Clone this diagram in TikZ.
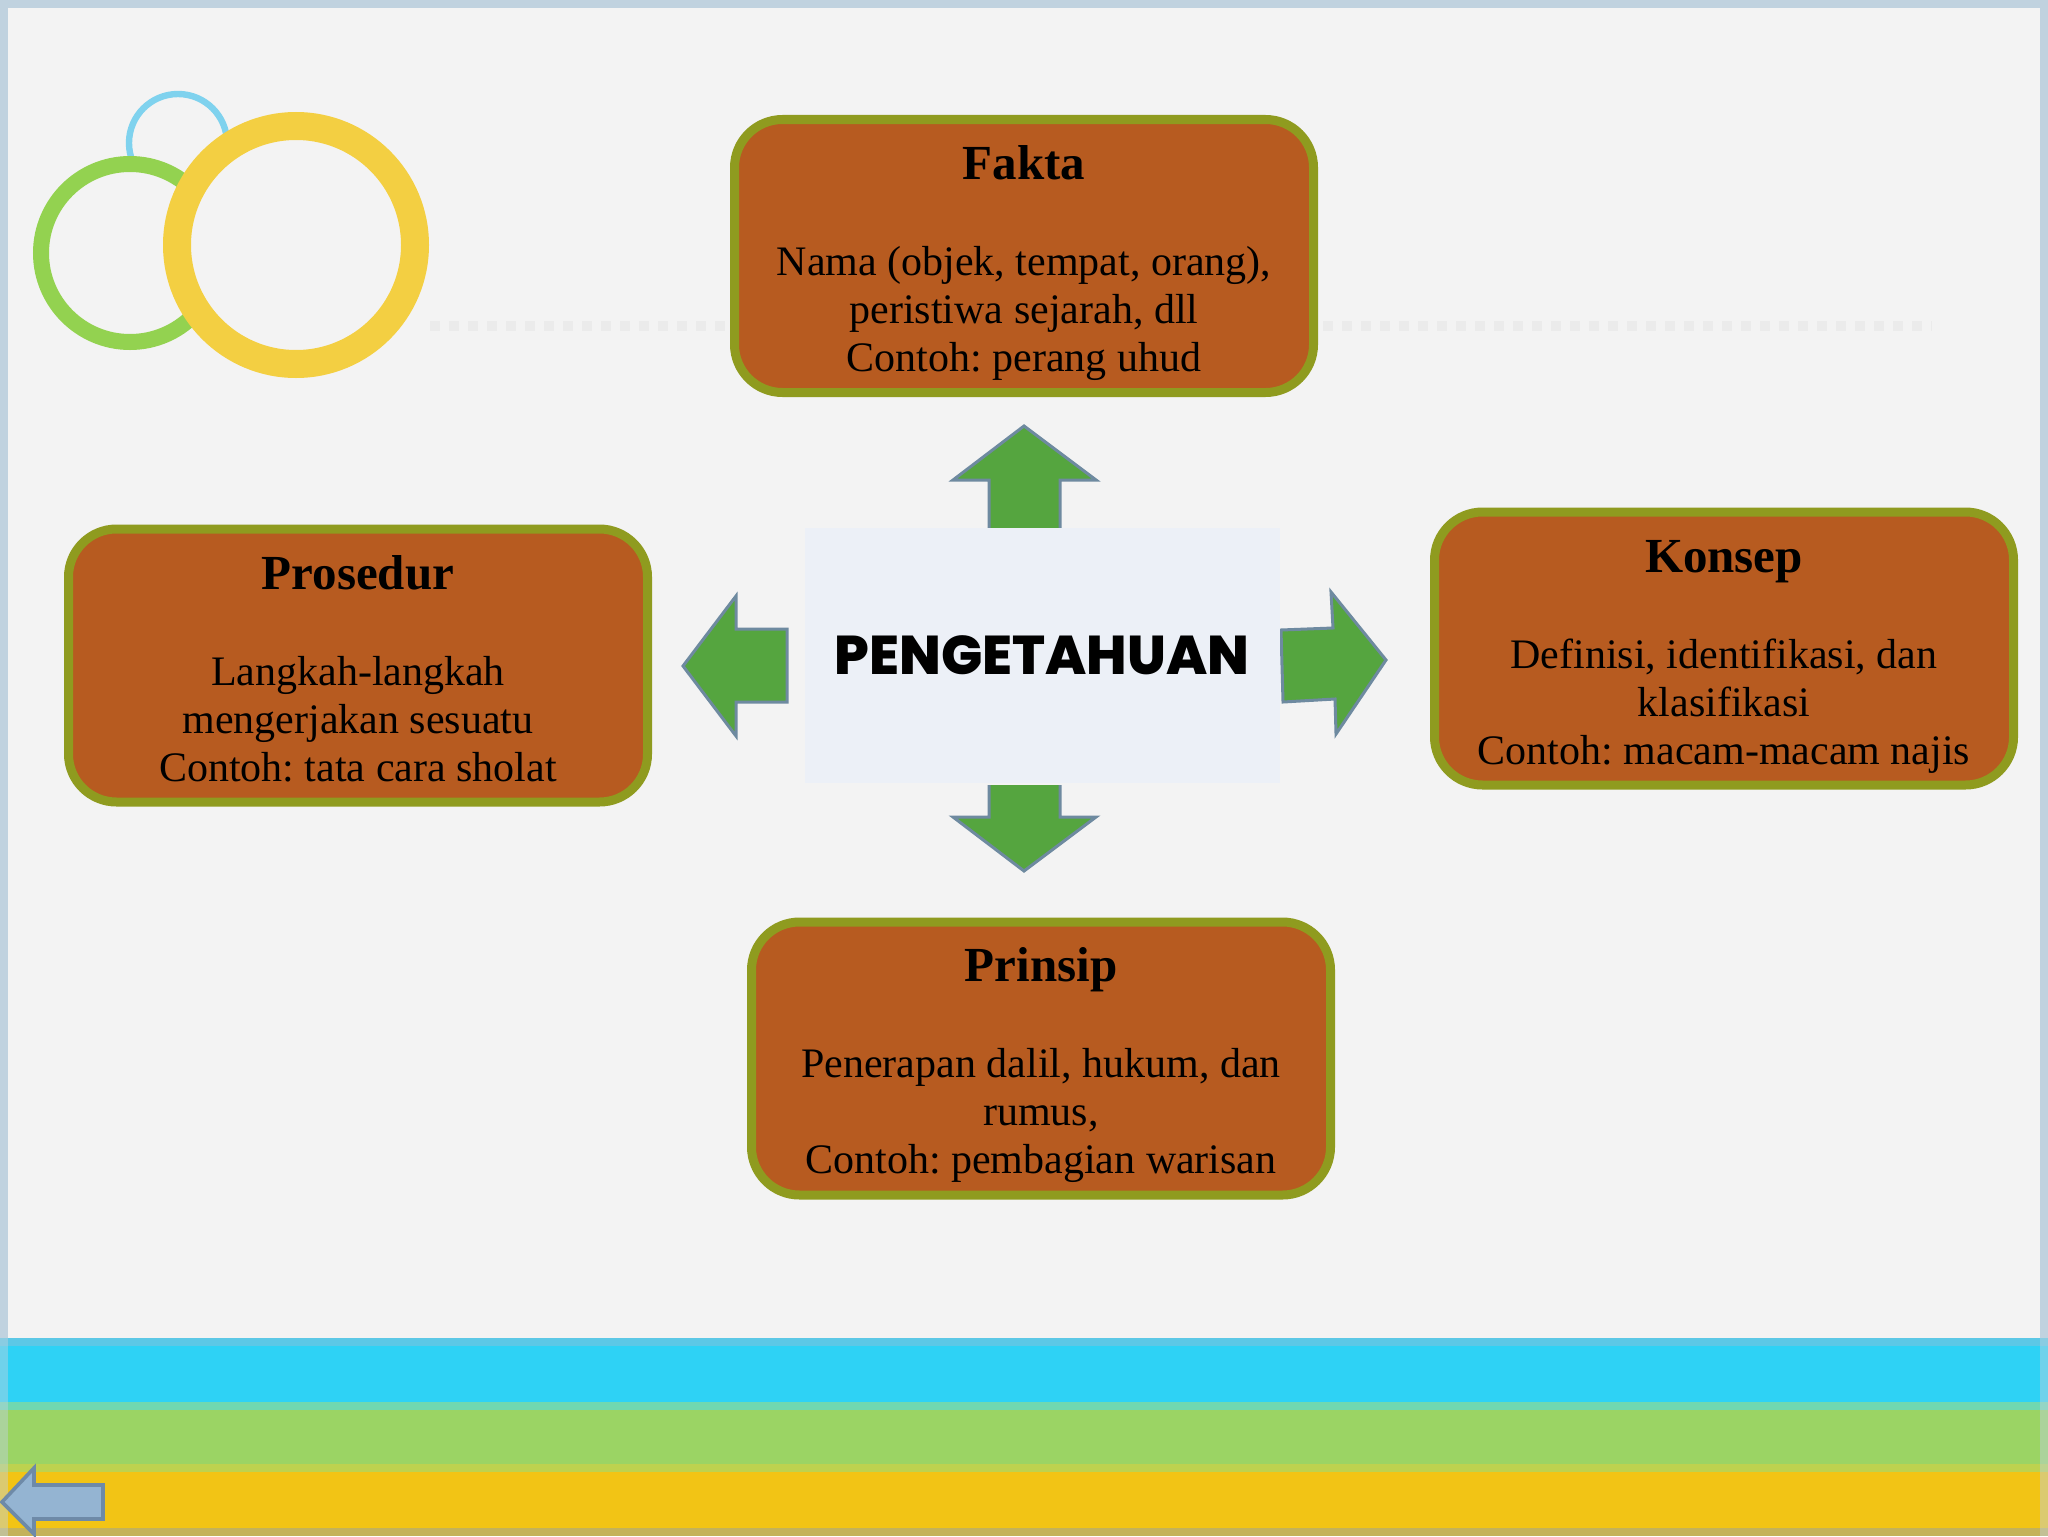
\documentclass[tikz,border=0pt]{standalone}
\usepackage{fontspec}
\setmainfont{Liberation Serif}
\newfontfamily\titlefont{Poppins ExtraBold}
\usetikzlibrary{calc}
\definecolor{pagebg}{HTML}{F3F3F3}
\definecolor{framec}{HTML}{C0D2DF}
\definecolor{boxfill}{HTML}{B75B20}
\definecolor{boxedge}{HTML}{8F9B1F}
\definecolor{arrowfill}{HTML}{55A53F}
\definecolor{arrowedge}{HTML}{6E8AA0}
\definecolor{centerfill}{HTML}{ECF0F7}
\definecolor{bandcyan}{HTML}{2ED2F5}
\definecolor{bandcyanedge}{HTML}{5CC8E6}
\definecolor{bandmix}{HTML}{70D8B0}
\definecolor{bandgreen}{HTML}{9BD464}
\definecolor{bandgreenedge}{HTML}{BDD24F}
\definecolor{bandyellow}{HTML}{F2C415}
\definecolor{bandyellowedge}{HTML}{C4B25A}
\definecolor{ringblue}{HTML}{7FD2EE}
\definecolor{ringgreen}{HTML}{93D250}
\definecolor{ringyellow}{HTML}{F3CF42}
\definecolor{backarrow}{HTML}{94B4D2}
\definecolor{backedge}{HTML}{6E8AA8}
\tikzset{
  infobox/.style={draw=boxedge,fill=boxfill,line width=4.5pt,rounded corners=24pt,
    minimum width=289.5pt,minimum height=136.5pt,inner sep=0pt,align=center,
    font=\frenchspacing\fontsize{21}{24}\selectfont},
  blockarrow/.style={draw=arrowedge,fill=arrowfill,line width=1.5pt,line join=miter},
  ring/.style={fill=pagebg},
}
\newcommand{\boxtitle}[1]{\rule{0pt}{24pt}{\fontsize{24.5}{24}\selectfont\bfseries #1}}
\newcommand{\pushup}[1]{\rule[-#1]{0pt}{#1}}
\begin{document}
\begin{tikzpicture}[x=0.5pt,y=-0.5pt]
\useasboundingbox (0,0) rectangle (2048,1536);
\fill[pagebg] (0,0) rectangle (2048,1536);
% dotted rule
\draw[black!8,line width=5pt,dash pattern=on 5pt off 4.5pt] (430,326) -- (1932,326);
% rings
\draw[ring,draw=ringblue,line width=3.2pt] (178,143) circle (49);
\draw[ring,draw=ringgreen,line width=8pt] (130,253) circle (89);
\draw[ring,draw=ringyellow,line width=14pt] (296,245) circle (119);
% colour bands
\fill[bandcyanedge] (0,1338) rectangle (2048,1346);
\fill[bandcyan] (0,1346) rectangle (2048,1402);
\fill[bandmix] (0,1402) rectangle (2048,1410);
\fill[bandgreen] (0,1410) rectangle (2048,1464);
\fill[bandgreenedge] (0,1464) rectangle (2048,1472);
\fill[bandyellow] (0,1472) rectangle (2048,1528);
\fill[bandyellowedge] (0,1528) rectangle (2048,1536);
% frame
\fill[framec] (0,0) rectangle (2048,8);
\fill[framec] (0,8) rectangle (8,1338);
\fill[framec] (2040,8) rectangle (2048,1338);
\fill[framec,opacity=.45] (0,1338) rectangle (8,1536);
\fill[framec,opacity=.45] (2040,1338) rectangle (2048,1536);
% back arrow
\draw[draw=backedge,fill=backarrow,line width=1.8pt]
  (2,1502) -- (34,1468) -- (34,1485) -- (103,1485) -- (103,1519) -- (34,1519) -- (34,1534) -- cycle;
% block arrows
\draw[blockarrow] (989,529) -- (989,480) -- (953,480) -- (1024,426) -- (1096,480) -- (1060,480) -- (1060,529);
\draw[blockarrow] (989,785) -- (989,817) -- (953,817) -- (1024,871) -- (1096,817) -- (1060,817) -- (1060,785);
\draw[blockarrow] (683,666) -- (736,596) -- (736,629) -- (787,629) -- (787,702) -- (736,702) -- (736,736) -- cycle;
\draw[blockarrow] (1386,660) -- (1331,592) -- (1333,628) -- (1281,630) -- (1283,702) -- (1335,699) -- (1336,734) -- cycle;
% centre
\node[fill=centerfill,minimum width=237.5pt,minimum height=127.5pt,inner sep=0pt] (center) at (1042,655.5) {};
\node[font=\titlefont\fontsize{27.3}{30}\selectfont] (title) at (center) {PENGETAHUAN};
% info boxes
\node[infobox] (fakta) at (1024,256) {\boxtitle{Fakta}\\[24pt]Nama (objek, tempat, orang),\\peristiwa sejarah, dll\\Contoh: perang uhud\pushup{2pt}};
\node[infobox] (prosedur) at (358,665.5) {\boxtitle{Prosedur}\\[24pt]Langkah-langkah\\mengerjakan sesuatu\\Contoh: tata cara sholat\pushup{4.5pt}};
\node[infobox] (konsep) at (1724,648.5) {\boxtitle{Konsep}\\[24pt]Definisi, identifikasi, dan\\klasifikasi\\Contoh: macam-macam najis\pushup{2pt}};
\node[infobox] (prinsip) at (1041,1058.5) {\boxtitle{Prinsip}\\[24pt]Penerapan dalil, hukum, dan\\rumus,\\Contoh: pembagian warisan\pushup{2pt}};
\end{tikzpicture}
\end{document}
